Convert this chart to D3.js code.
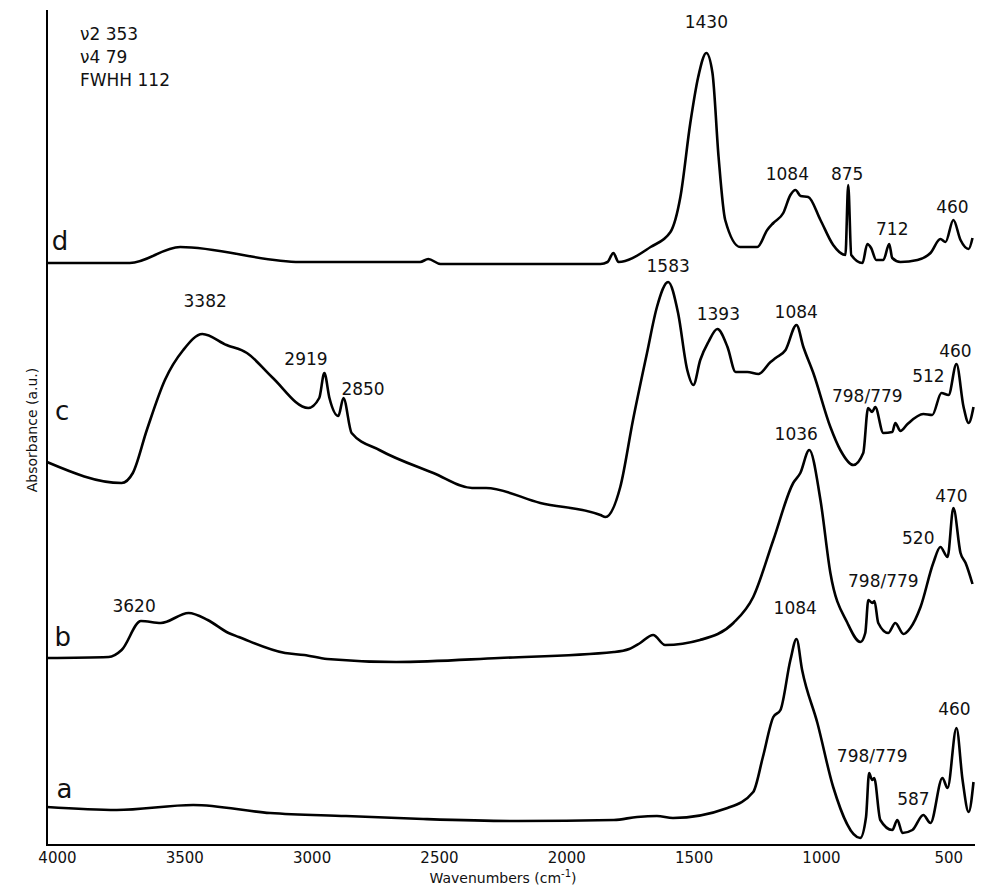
<!DOCTYPE html>
<html><head><meta charset="utf-8">
<script src="https://cdn.jsdelivr.net/npm/d3@7"></script>
<style>body{margin:0;background:#fff}text{font-family:"DejaVu Sans",sans-serif;fill:#111}</style>
</head><body><svg id="c" width="1008" height="885"></svg>
<script>
const xTicks=[4000,3500,3000,2500,2000,1500,1000,500];
const specA=[[4041,0.38],[3767,0.35],[3467,0.40],[3165,0.32],[2867,0.29],[2564,0.26],[2191,0.24],[1815,0.25],[1724,0.28],[1646,0.29],[1583,0.27],[1369,0.37],[1268,0.53],[1230,0.88],[1189,1.28],[1161,1.35],[1122,1.85],[1098,2.06],[1076,1.75],[1016,1.22],[954,0.58],[848,0.07],[825,0.28],[813,0.72],[801,0.65],[793,0.67],[769,0.25],[722,0.15],[702,0.25],[682,0.12],[643,0.15],[600,0.30],[572,0.22],[525,0.67],[505,0.57],[470,1.17],[446,0.65],[422,0.33],[403,0.63]];
const specB=[[4041,1.87],[3799,1.88],[3748,1.95],[3672,2.24],[3594,2.22],[3485,2.32],[3410,2.25],[3328,2.12],[3288,2.08],[3106,1.92],[3031,1.90],[2941,1.86],[2670,1.83],[2266,1.87],[1815,1.93],[1755,1.96],[1712,2.02],[1661,2.10],[1614,2.00],[1477,2.05],[1346,2.22],[1268,2.48],[1189,3.05],[1111,3.62],[1083,3.72],[1048,3.95],[1004,3.45],[965,2.72],[898,2.22],[847,2.03],[828,2.12],[816,2.45],[800,2.42],[792,2.44],[777,2.22],[738,2.12],[710,2.22],[678,2.11],[651,2.17],[611,2.38],[561,2.82],[533,2.98],[505,2.88],[482,3.37],[454,2.92],[434,2.82],[407,2.61]];
const specC=[[4041,3.83],[3748,3.62],[3704,3.72],[3649,4.15],[3578,4.65],[3506,4.95],[3431,5.11],[3336,5.00],[3256,4.92],[3158,4.68],[3015,4.37],[2972,4.47],[2952,4.72],[2932,4.47],[2897,4.29],[2877,4.47],[2845,4.12],[2736,3.95],[2524,3.72],[2372,3.57],[2317,3.57],[2104,3.42],[1868,3.30],[1848,3.28],[1790,3.58],[1740,4.25],[1685,4.92],[1646,5.38],[1602,5.63],[1563,5.32],[1527,4.75],[1503,4.60],[1476,4.85],[1444,5.03],[1409,5.16],[1369,4.98],[1337,4.73],[1291,4.73],[1247,4.71],[1200,4.83],[1180,4.87],[1141,4.95],[1098,5.20],[1071,4.98],[1032,4.72],[965,4.18],[926,3.95],[875,3.80],[836,3.92],[817,4.37],[801,4.33],[789,4.38],[757,4.12],[722,4.13],[710,4.22],[690,4.14],[662,4.21],[600,4.31],[565,4.30],[529,4.52],[501,4.50],[470,4.81],[442,4.38],[422,4.22],[403,4.38]];
const specD=[[4041,5.82],[3716,5.82],[3518,5.98],[3047,5.83],[2576,5.83],[2544,5.86],[2496,5.81],[1868,5.81],[1840,5.83],[1817,5.92],[1797,5.83],[1671,5.98],[1593,6.13],[1554,6.48],[1515,7.22],[1484,7.68],[1452,7.92],[1428,7.72],[1404,6.88],[1378,6.25],[1319,5.98],[1252,5.98],[1213,6.15],[1189,6.22],[1150,6.32],[1122,6.50],[1102,6.55],[1082,6.49],[1052,6.48],[1004,6.25],[954,6.00],[906,5.90],[895,6.60],[883,5.90],[839,5.82],[820,6.01],[805,5.97],[785,5.85],[757,5.85],[734,6.01],[722,5.87],[690,5.83],[623,5.85],[572,5.92],[533,6.06],[513,6.03],[482,6.25],[454,6.05],[422,5.96],[407,6.07]];
const peakLabels=[["1430",1452,8.17],["1084",1134,6.65],["875",899,6.65],["712",722,6.10],["460",486,6.32],
["1583",1602,5.73],["1393",1405,5.25],["1084",1099,5.27],["798/779",820,4.43],["512",580,4.63],["460",474,4.88],["3382",3420,5.38],["2919",3024,4.80],["2850",2800,4.50],
["3620",3699,2.33],["1036",1099,4.05],["470",490,3.43],["520",620,3.01],["798/779",757,2.58],
["1084",1103,2.31],["798/779",801,0.83],["587",639,0.40],["460",478,1.30]];
const traceLetters=[["d",3990,5.95],["c",3982,4.25],["b",3979,1.99],["a",3972,0.47]];
const infoLines=["ν2 353","ν4 79","FWHH 112"];

const svg=d3.select("#c");
const x=d3.scaleLinear().domain([4041,405]).range([47,973]);
const y=d3.scaleLinear().domain([0,8.35]).range([845,10]);
const line=d3.line().x(d=>x(d[0])).y(d=>y(d[1])).curve(d3.curveMonotoneX);
[specA,specB,specC,specD].forEach(s=>svg.append("path").attr("d",line(s)).attr("fill","none").attr("stroke","#000").attr("stroke-width",2.6).attr("stroke-linejoin","round"));
svg.append("line").attr("x1",47).attr("x2",47).attr("y1",10).attr("y2",845).attr("stroke","#000").attr("stroke-width",2);
svg.append("line").attr("x1",46).attr("x2",975).attr("y1",845).attr("y2",845).attr("stroke","#000").attr("stroke-width",2);
svg.selectAll(".xt").data(xTicks).join("text").attr("x",d=>x(d)).attr("y",863).attr("text-anchor","middle").attr("font-size",15).text(d=>d);
svg.append("text").attr("x",503).attr("y",883).attr("text-anchor","middle").attr("font-size",14).html('Wavenumbers (cm<tspan dy="-6" font-size="10">-1</tspan><tspan dy="6">)</tspan>');
svg.append("text").attr("transform","translate(37,430) rotate(-90)").attr("text-anchor","middle").attr("font-size",14).text("Absorbance (a.u.)");
svg.selectAll(".pl").data(peakLabels).join("text").attr("x",d=>x(d[1])).attr("y",d=>y(d[2])).attr("text-anchor","middle").attr("font-size",17).text(d=>d[0]);
svg.selectAll(".tl").data(traceLetters).join("text").attr("x",d=>x(d[1])).attr("y",d=>y(d[2])).attr("text-anchor","middle").attr("font-size",26).text(d=>d[0]);
svg.selectAll(".il").data(infoLines).join("text").attr("x",80).attr("y",(d,i)=>40+i*23).attr("font-size",17).text(d=>d);
</script></body></html>
